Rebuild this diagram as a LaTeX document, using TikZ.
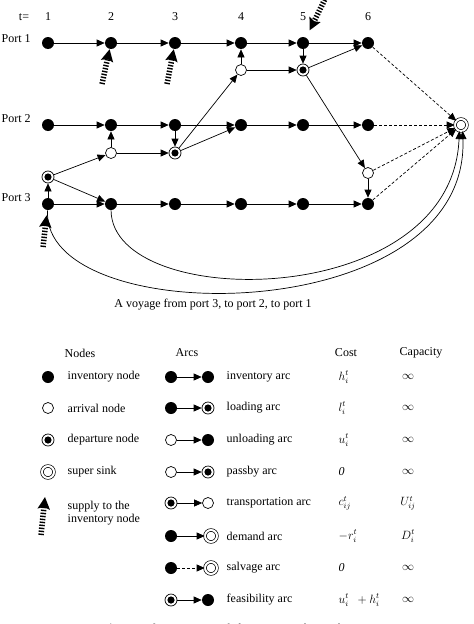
\documentclass[tikz,border=0pt]{standalone}
\usepackage{fontspec}
\setmainfont{Liberation Serif}
\usetikzlibrary{arrows.meta}

\tikzset{
  inv/.style={circle, fill, inner sep=0pt, minimum size=12pt},
  arr/.style={circle, draw, fill=white, inner sep=0pt, minimum size=11pt},
  dep/.style={circle, draw, fill=white, inner sep=0pt, minimum size=12pt,
    path picture={\fill[black] (path picture bounding box.center) circle (3.6pt);}},
  sink/.style={circle, draw, double, double distance=2pt, inner sep=0pt, minimum size=12pt},
  arc/.style={-{Triangle[length=8pt,width=7pt]}},
  salv/.style={arc, dash pattern=on 3pt off 2pt},
  supply/.style={line width=5.5pt, dash pattern=on 1.4pt off 1.6pt, line cap=butt,
    -{Stealth[length=12pt,width=12pt,inset=2pt]}}
}

\begin{document}
\begin{tikzpicture}[x=1pt, y=-1pt, line width=0.7pt, line join=round, font=\fontsize{12}{13}\selectfont]
  \useasboundingbox (0,0) rectangle (474,624);
  % time labels and ports
  \node (tlab) at (24,17) {t=};
  \foreach \c/\x in {1/48,2/111,3/175,4/241,5/303,6/368}
    \node (t\c) at (\x,17) {\c};
  \node[anchor=west] (port1) at (-2,39) {Port 1};
  \node[anchor=west] (port2) at (-2,119) {Port 2};
  \node[anchor=west] (port3) at (-2,198) {Port 3};

  % inventory nodes
  \foreach \r/\y in {1/43,2/125,3/204}
    \foreach \c/\x in {1/48,2/111,3/175,4/241,5/303,6/368}
      \node[inv] (p\r\c) at (\x,\y) {};
  \node[arr] (a14) at (241,70) {};
  \node[dep] (d15) at (303,70) {};
  \node[arr] (a22) at (111,153) {};
  \node[dep] (d23) at (175,153) {};
  \node[dep] (d31) at (48,177) {};
  \node[arr] (a36) at (368,173) {};
  \node[sink] (sink) at (461,125) {};

  % inventory arcs
  \foreach \r in {1,2,3}
    \foreach \c/\nx in {1/2,2/3,3/4,4/5,5/6}
      \draw[arc] (p\r\c) -- (p\r\nx);

  % loading, unloading, passby, transportation, feasibility
  \draw[arc] (a14) -- (p14);
  \draw[arc] (a14) -- (d15);
  \draw[arc] (p15) -- (d15);
  \draw[arc] (d15) -- (p16);
  \draw[arc] (d15) -- (a36);
  \draw[arc] (a22) -- (p22);
  \draw[arc] (a22) -- (d23);
  \draw[arc] (p23) -- (d23);
  \draw[arc] (d23) -- (a14);
  \draw[arc] (d23) -- (p24);
  \draw[arc] (p31) -- (d31);
  \draw[arc] (d31) -- (a22);
  \draw[arc] (d31) -- (p32);
  \draw[arc] (a36) -- (p36);

  % salvage and demand arcs
  \draw[salv] (p16) -- (sink);
  \draw[salv] (p26) -- (sink);
  \draw[salv] (a36) -- (sink);
  \draw[salv] (p36) -- (sink);
  \draw[arc] (p31) .. controls (40,331) and (470,331) .. (sink.-75);
  \draw[arc] (p32) .. controls (112,312) and (452,312) .. (sink.-105);

  % supply
  \coordinate (s12) at (102,84);
  \coordinate (s13) at (167,84);
  \coordinate (s15) at (326,-3);
  \coordinate (s31) at (43,247);
  \draw[supply] (s12) -- (p12);
  \draw[supply] (s13) -- (p13);
  \draw[supply, shorten >=8pt] (s15) -- (p15.60);
  \draw[supply, shorten >=5pt] (s31) -- (p31);

  \node (voyage) at (213,305) {A voyage from port 3, to port 2, to port 1};

  % legend
  \node (hnodes) at (80,353) {Nodes};
  \node (harcs) at (187,353) {Arcs};
  \node (hcost) at (346,353) {Cost};
  \node (hcap) at (421,353) {Capacity};

  \foreach \n/\y/\st/\lab in {1/377/inv/inventory node, 2/408/arr/arrival node,
      3/440/dep/departure node, 4/472/sink/super sink} {
    \node[\st] (ln\n) at (48,\y) {};
    \node[anchor=west] (lnt\n) at (64,\y) {\lab};
  }
  \coordinate (lsup) at (41,535);
  \coordinate (lsupt) at (45,497);
  \draw[supply] (lsup) -- (lsupt);
  \node[anchor=west, align=left] (lnt5) at (64,513) {supply to the\\inventory node};

  \foreach \n/\y/\fromst/\tost/\xb/\ls/\lab/\cost/\capa in {
      1/377/inv/inv/208/arc/inventory arc/$h_i^t$/{\large$\infty$},
      2/408/inv/dep/208/arc/loading arc/$l_i^t$/{\large$\infty$},
      3/440/arr/inv/208/arc/unloading arc/$u_i^t$/{\large$\infty$},
      4/472/arr/dep/208/arc/passby arc/$\mathit{0}$/{\large$\infty$},
      5/503/dep/arr/208/arc/transportation arc/$c_{ij}^t$/$U_{ij}^t$,
      6/536/inv/sink/211/arc/demand arc/$-r_i^t$/$D_i^t$,
      7/568/inv/sink/211/salv/salvage arc/$\mathit{0}$/{\large$\infty$},
      8/600/dep/inv/208/arc/feasibility arc/$u_i^t\ \ +h_i^t$/{\large$\infty$}} {
    \node[\fromst] (la\n) at (171,\y) {};
    \node[\tost] (lb\n) at (\xb,\y) {};
    \draw[\ls] (la\n) -- (lb\n);
    \node[anchor=west] (lt\n) at (223,\y) {\lab};
    \node[anchor=west] (lc\n) at (335,\y) {\cost};
    \node (lk\n) at (408,\y) {\capa};
  }

  \node[anchor=north west] (caption) at (98,620) {\textbf{Fig. 1.} A dynamic network for 3 ports and 1 product};
\end{tikzpicture}
\end{document}
